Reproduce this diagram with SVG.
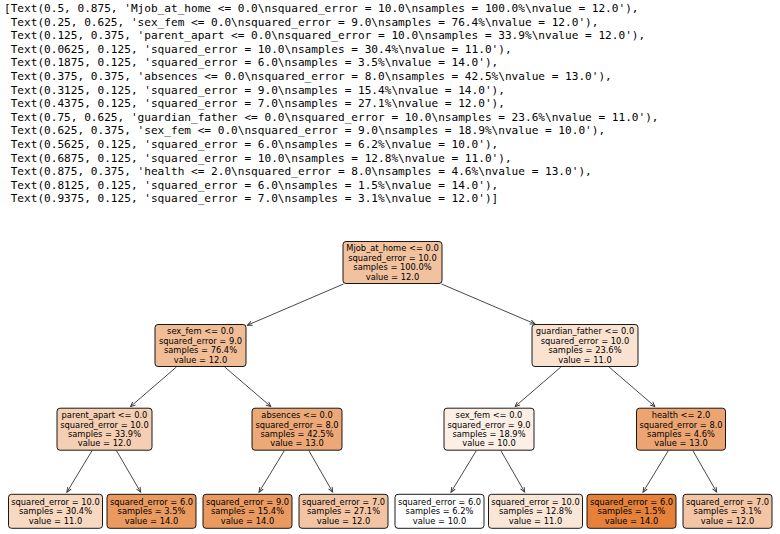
<svg xmlns="http://www.w3.org/2000/svg" width="780" height="534" viewBox="0 0 780 534">
<style>
.out{font-family:"DejaVu Sans Mono",monospace;font-size:11.1px;fill:#000;white-space:pre}
.nt{font-family:"DejaVu Sans",sans-serif;font-size:8.3px;fill:#000;text-anchor:middle}
.box{stroke:#000;stroke-width:0.9}
.edge{stroke:#333;stroke-width:0.9;fill:none;marker-end:url(#ah)}
</style>
<defs>
<marker id="ah" markerUnits="userSpaceOnUse" markerWidth="8" markerHeight="8" viewBox="-6 -4 8 8" refX="0" refY="0" orient="auto">
<path d="M-4.8,-2.1 L0,0 L-4.8,2.1" fill="none" stroke="#333" stroke-width="0.9"/>
</marker>
</defs>
<rect width="780" height="534" fill="#fff"/>
<g id="output" xml:space="preserve">
<text class="out" x="4" y="12">[Text(0.5, 0.875, 'Mjob_at_home &lt;= 0.0\nsquared_error = 10.0\nsamples = 100.0%\nvalue = 12.0'),</text>
<text class="out" x="4" y="25.6"> Text(0.25, 0.625, 'sex_fem &lt;= 0.0\nsquared_error = 9.0\nsamples = 76.4%\nvalue = 12.0'),</text>
<text class="out" x="4" y="39.2"> Text(0.125, 0.375, 'parent_apart &lt;= 0.0\nsquared_error = 10.0\nsamples = 33.9%\nvalue = 12.0'),</text>
<text class="out" x="4" y="52.8"> Text(0.0625, 0.125, 'squared_error = 10.0\nsamples = 30.4%\nvalue = 11.0'),</text>
<text class="out" x="4" y="66.4"> Text(0.1875, 0.125, 'squared_error = 6.0\nsamples = 3.5%\nvalue = 14.0'),</text>
<text class="out" x="4" y="80"> Text(0.375, 0.375, 'absences &lt;= 0.0\nsquared_error = 8.0\nsamples = 42.5%\nvalue = 13.0'),</text>
<text class="out" x="4" y="93.6"> Text(0.3125, 0.125, 'squared_error = 9.0\nsamples = 15.4%\nvalue = 14.0'),</text>
<text class="out" x="4" y="107.2"> Text(0.4375, 0.125, 'squared_error = 7.0\nsamples = 27.1%\nvalue = 12.0'),</text>
<text class="out" x="4" y="120.8"> Text(0.75, 0.625, 'guardian_father &lt;= 0.0\nsquared_error = 10.0\nsamples = 23.6%\nvalue = 11.0'),</text>
<text class="out" x="4" y="134.4"> Text(0.625, 0.375, 'sex_fem &lt;= 0.0\nsquared_error = 9.0\nsamples = 18.9%\nvalue = 10.0'),</text>
<text class="out" x="4" y="148"> Text(0.5625, 0.125, 'squared_error = 6.0\nsamples = 6.2%\nvalue = 10.0'),</text>
<text class="out" x="4" y="161.6"> Text(0.6875, 0.125, 'squared_error = 10.0\nsamples = 12.8%\nvalue = 11.0'),</text>
<text class="out" x="4" y="175.2"> Text(0.875, 0.375, 'health &lt;= 2.0\nsquared_error = 8.0\nsamples = 4.6%\nvalue = 13.0'),</text>
<text class="out" x="4" y="188.8"> Text(0.8125, 0.125, 'squared_error = 6.0\nsamples = 1.5%\nvalue = 14.0'),</text>
<text class="out" x="4" y="202.4"> Text(0.9375, 0.125, 'squared_error = 7.0\nsamples = 3.1%\nvalue = 12.0')]</text>
</g>
<g id="connectors">
<line class="edge" x1="343.5" y1="284" x2="247.4" y2="325.2"/>
<line class="edge" x1="441.5" y1="284" x2="534.9" y2="323.9"/>
<line class="edge" x1="176.4" y1="367" x2="130.5" y2="406.6"/>
<line class="edge" x1="224.7" y1="367" x2="270.9" y2="406.6"/>
<line class="edge" x1="560.9" y1="367" x2="515" y2="406.6"/>
<line class="edge" x1="609.1" y1="367" x2="655" y2="406.6"/>
<line class="edge" x1="92" y1="450.7" x2="66.9" y2="492.2"/>
<line class="edge" x1="116.5" y1="450.7" x2="140.6" y2="492.1"/>
<line class="edge" x1="284.3" y1="450.7" x2="259" y2="492.2"/>
<line class="edge" x1="308.9" y1="450.7" x2="332.7" y2="492.1"/>
<line class="edge" x1="476.3" y1="450.7" x2="451" y2="492.2"/>
<line class="edge" x1="500.9" y1="450.7" x2="524.7" y2="492.1"/>
<line class="edge" x1="668.3" y1="450.7" x2="643" y2="492.2"/>
<line class="edge" x1="692.9" y1="450.7" x2="716.7" y2="492.1"/>
</g>
<g id="n0"><rect class="box" x="343" y="241.5" width="99" height="42" rx="3" fill="#f2c29f"/>
<text class="nt" x="392.5" y="251.3">Mjob_at_home &lt;= 0.0</text><text class="nt" x="392.5" y="261">squared_error = 10.0</text><text class="nt" x="392.5" y="270.3">samples = 100.0%</text><text class="nt" x="392.5" y="279.5">value = 12.0</text></g>
<g id="n1"><rect class="box" x="155" y="324.5" width="91" height="42" rx="3" fill="#f1bd97"/>
<text class="nt" x="200.5" y="334.3">sex_fem &lt;= 0.0</text><text class="nt" x="200.5" y="344">squared_error = 9.0</text><text class="nt" x="200.5" y="353.3">samples = 76.4%</text><text class="nt" x="200.5" y="362.5">value = 12.0</text></g>
<g id="n8"><rect class="box" x="532" y="324.5" width="106" height="42" rx="3" fill="#fae2d1"/>
<text class="nt" x="585" y="334.3">guardian_father &lt;= 0.0</text><text class="nt" x="585" y="344">squared_error = 10.0</text><text class="nt" x="585" y="353.3">samples = 23.6%</text><text class="nt" x="585" y="362.5">value = 11.0</text></g>
<g id="n2"><rect class="box" x="57" y="408.2" width="95" height="42" rx="3" fill="#f5cfb3"/>
<text class="nt" x="104.5" y="418">parent_apart &lt;= 0.0</text><text class="nt" x="104.5" y="427.7">squared_error = 10.0</text><text class="nt" x="104.5" y="437">samples = 33.9%</text><text class="nt" x="104.5" y="446.2">value = 12.0</text></g>
<g id="n5"><rect class="box" x="252" y="408.2" width="90" height="42" rx="3" fill="#eda877"/>
<text class="nt" x="297" y="418">absences &lt;= 0.0</text><text class="nt" x="297" y="427.7">squared_error = 8.0</text><text class="nt" x="297" y="437">samples = 42.5%</text><text class="nt" x="297" y="446.2">value = 13.0</text></g>
<g id="n9"><rect class="box" x="444" y="408.2" width="90" height="42" rx="3" fill="#fcefe6"/>
<text class="nt" x="489" y="418">sex_fem &lt;= 0.0</text><text class="nt" x="489" y="427.7">squared_error = 9.0</text><text class="nt" x="489" y="437">samples = 18.9%</text><text class="nt" x="489" y="446.2">value = 10.0</text></g>
<g id="n12"><rect class="box" x="636.5" y="408.2" width="89" height="42" rx="3" fill="#eca572"/>
<text class="nt" x="681" y="418">health &lt;= 2.0</text><text class="nt" x="681" y="427.7">squared_error = 8.0</text><text class="nt" x="681" y="437">samples = 4.6%</text><text class="nt" x="681" y="446.2">value = 13.0</text></g>
<g id="n3"><rect class="box" x="8.5" y="494.3" width="94" height="34" rx="3" fill="#f7d8c1"/>
<text class="nt" x="55.5" y="505">squared_error = 10.0</text><text class="nt" x="55.5" y="514.3">samples = 30.4%</text><text class="nt" x="55.5" y="523.6">value = 11.0</text></g>
<g id="n4"><rect class="box" x="107" y="494.3" width="89" height="34" rx="3" fill="#ea995f"/>
<text class="nt" x="151.5" y="505">squared_error = 6.0</text><text class="nt" x="151.5" y="514.3">samples = 3.5%</text><text class="nt" x="151.5" y="523.6">value = 14.0</text></g>
<g id="n6"><rect class="box" x="203" y="494.3" width="89" height="34" rx="3" fill="#ea9a60"/>
<text class="nt" x="247.5" y="505">squared_error = 9.0</text><text class="nt" x="247.5" y="514.3">samples = 15.4%</text><text class="nt" x="247.5" y="523.6">value = 14.0</text></g>
<g id="n7"><rect class="box" x="299" y="494.3" width="89" height="34" rx="3" fill="#f3c4a3"/>
<text class="nt" x="343.5" y="505">squared_error = 7.0</text><text class="nt" x="343.5" y="514.3">samples = 27.1%</text><text class="nt" x="343.5" y="523.6">value = 12.0</text></g>
<g id="n10"><rect class="box" x="395" y="494.3" width="89" height="34" rx="3" fill="#ffffff"/>
<text class="nt" x="439.5" y="505">squared_error = 6.0</text><text class="nt" x="439.5" y="514.3">samples = 6.2%</text><text class="nt" x="439.5" y="523.6">value = 10.0</text></g>
<g id="n11"><rect class="box" x="488.5" y="494.3" width="94" height="34" rx="3" fill="#fae6d7"/>
<text class="nt" x="535.5" y="505">squared_error = 10.0</text><text class="nt" x="535.5" y="514.3">samples = 12.8%</text><text class="nt" x="535.5" y="523.6">value = 11.0</text></g>
<g id="n13"><rect class="box" x="587" y="494.3" width="89" height="34" rx="3" fill="#e58139"/>
<text class="nt" x="631.5" y="505">squared_error = 6.0</text><text class="nt" x="631.5" y="514.3">samples = 1.5%</text><text class="nt" x="631.5" y="523.6">value = 14.0</text></g>
<g id="n14"><rect class="box" x="683" y="494.3" width="89" height="34" rx="3" fill="#f3c5a4"/>
<text class="nt" x="727.5" y="505">squared_error = 7.0</text><text class="nt" x="727.5" y="514.3">samples = 3.1%</text><text class="nt" x="727.5" y="523.6">value = 12.0</text></g>
</svg>
